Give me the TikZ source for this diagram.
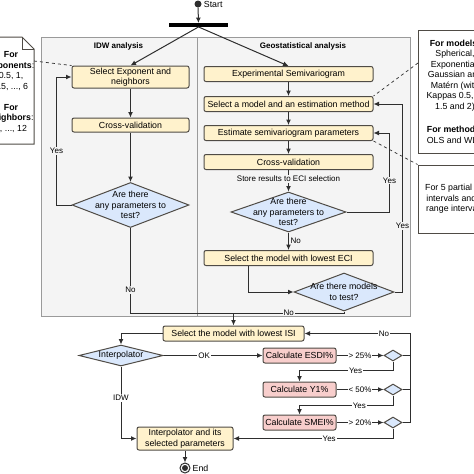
\documentclass[tikz,border=0pt]{standalone}
\usepackage{fontspec}
\setmainfont{Liberation Sans}
\usetikzlibrary{arrows.meta,shapes.geometric}

\definecolor{panelfill}{HTML}{F4F4F4}
\definecolor{panelline}{HTML}{9A9A9A}
\definecolor{linecol}{HTML}{2E2E2E}
\definecolor{boxline}{HTML}{4F4B45}
\definecolor{procfill}{HTML}{FFF2CC}
\definecolor{calcfill}{HTML}{F8CECC}
\definecolor{testfill}{HTML}{DAE8FC}

\tikzset{
  flow/.style={draw=linecol, line width=1pt, -{Latex[length=5.5pt,width=5pt]}},
  link/.style={draw=linecol, line width=1pt},
  proc/.style={rectangle, rounded corners=2pt, draw=boxline, line width=1pt, fill=procfill, inner sep=1pt, align=center},
  calcbox/.style={proc, fill=calcfill},
  test/.style={diamond, aspect=2.9, draw=boxline, line width=1pt, fill=testfill, inner sep=-7pt, align=center},
  lbl/.style={fill=white, inner sep=1pt, font=\fontsize{8}{9.6}\selectfont},
  notebox/.style={draw=boxline, line width=1pt, fill=white, align=center},
  noteline/.style={draw=linecol, dashed, line width=0.7pt},
  paneltitle/.style={font=\fontsize{8}{9.6}\selectfont\bfseries}
}

\begin{document}
\begin{tikzpicture}[x=1pt, y=-1pt, font=\fontsize{8.8}{10.5}\selectfont]
  \useasboundingbox (0,0) rectangle (474,474);

  \draw[draw=panelline, fill=panelfill, line width=1pt] (41,37) rectangle (410,316);
  \draw[draw=panelline, line width=1pt] (197.5,37) -- (197.5,316);
  \node[paneltitle] (idwtitle) at (118.5,46) {IDW analysis};
  \node[paneltitle] (geotitle) at (303,46) {Geostatistical analysis};

  \node[circle, fill=linecol, minimum size=7, inner sep=0, label={[inner sep=2pt]right:Start}] (start) at (198,4) {};
  \node[fill=black, minimum width=59, minimum height=3.5, inner sep=0] (fork) at (198.5,25) {};

  \node[proc, minimum width=117, minimum height=22] (idwsel) at (130.5,77) {Select Exponent and\\neighbors};
  \node[proc, minimum width=117, minimum height=14] (idwcv) at (130.5,125) {Cross-validation};
  \node[test, minimum width=117, minimum height=45] (idwtest) at (130.5,205) {Are there\\any parameters to\\test?};

  \node[proc, minimum width=169, minimum height=15] (expsv) at (288.5,74) {Experimental Semivariogram};
  \node[proc, minimum width=169, minimum height=15] (method) at (288.5,104) {Select a model and an estimation method};
  \node[proc, minimum width=169, minimum height=15] (estim) at (288.5,133) {Estimate semivariogram parameters};
  \node[proc, minimum width=169, minimum height=15] (geocv) at (288.5,162) {Cross-validation};
  \node[test, minimum width=115, minimum height=40] (partest) at (288.5,212) {Are there\\any parameters to\\test?};
  \node[proc, minimum width=169, minimum height=15] (eci) at (288.5,258) {Select the model with lowest ECI};
  \node[test, minimum width=100, minimum height=38] (modeltest) at (344,292) {Are there models\\to test?};

  \node[proc, minimum width=141, minimum height=15] (isi) at (233.5,333.5) {Select the model with lowest ISI};
  \node[test, minimum width=84, minimum height=21] (interp) at (121,355.5) {Interpolator};
  \node[calcbox, minimum width=73, minimum height=15] (esdi) at (299.5,355.5) {Calculate ESDI\%};
  \node[calcbox, minimum width=73, minimum height=15] (y1) at (299.5,389.5) {Calculate Y1\%};
  \node[calcbox, minimum width=73, minimum height=15] (smei) at (299.5,422.5) {Calculate SMEI\%};
  \node[test, minimum width=18, minimum height=11] (c1) at (393,355.5) {};
  \node[test, minimum width=18, minimum height=11] (c2) at (393,389.5) {};
  \node[test, minimum width=18, minimum height=11] (c3) at (393,422.5) {};
  \node[proc, minimum width=96, minimum height=23] (final) at (185,438.5) {Interpolator and its\\selected parameters};
  \node[circle, draw=linecol, line width=1pt, minimum size=10, inner sep=0,
    path picture={\fill[linecol] (path picture bounding box.center) circle (3pt);},
    label={[inner sep=2pt]right:End}] (end) at (185,468) {};

  \draw[notebox] (-20,37) -- (22,37) -- (34,49) -- (34,144) -- (-20,144) -- cycle;
  \draw[notebox, fill=none] (22,37) |- (34,49);
  \node[align=center] (expnote) at (11,92) {\textbf{For}\\\textbf{exponents}:\\0.5, 1,\\1.5, ..., 6\\[10.5pt]\textbf{For}\\\textbf{neighbors}:\\5, ..., 12};
  \node[notebox, minimum width=74, minimum height=123] (modelnote) at (455,91.5) {\textbf{For models:}\\Spherical,\\Exponential,\\Gaussian and\\Matérn (with\\Kappas 0.5, 1,\\1.5 and 2)\\[13pt]\textbf{For methods:}\\OLS and WLS};
  \node[notebox, minimum width=74, minimum height=68] (rangenote) at (455,199) {For 5 partial sill\\intervals and 5\\range intervals};

  \coordinate (exppin) at (34,61);
  \coordinate (modelpin) at (418,63);
  \draw[noteline] (exppin) -- (idwsel.north west);
  \draw[noteline] (modelpin) -- (method.north east);
  \draw[noteline] (estim.south east) -- (rangenote.north west);

  \draw[flow] (start) -- (fork);
  \draw[flow] (fork.south) -- (idwsel.north);
  \draw[flow] (fork.south) -- (expsv.north);

  \draw[flow] (idwsel) -- (idwcv);
  \draw[flow] (idwcv) -- (idwtest);
  \draw[flow] (idwtest.west) -- ++(-15,0) |- node[lbl, fill=panelfill, pos=0.21] {Yes} (idwsel.west);

  \draw[flow] (expsv) -- (method);
  \draw[flow] (method) -- (estim);
  \draw[flow] (estim) -- (geocv);
  \draw[flow] (geocv) -- node[lbl, fill=panelfill, pos=0.4] {Store results to ECI selection} (partest);
  \draw[flow] (partest) -- node[lbl, fill=none, right, pos=0.45, inner sep=1.5pt] {No} (eci);
  \draw[flow] (partest.east) -- ++(43,0) |- node[lbl, fill=panelfill, pos=0.2] {Yes} (estim.east);
  \draw[flow] ([xshift=-40.5pt]eci.south) |- (modeltest.west);
  \draw[flow] (modeltest.east) -- ++(8,0) |- node[lbl, fill=panelfill, pos=0.175] {Yes} (method.east);

  \coordinate (merge) at (233.5,313);
  \draw[link] (idwtest.south) |- node[lbl, fill=panelfill, pos=0.365] {No} (merge);
  \draw[flow] (modeltest.south) |- node[lbl, fill=panelfill, inner ysep=0pt, pos=0.75] {No} (merge) -- (isi.north);

  \draw[flow] (isi.west) -| (interp.north);
  \draw[flow] (interp.east) -- node[lbl, pos=0.41] {OK} (esdi.west);
  \draw[flow] (interp.south) |- node[lbl, pos=0.22] {IDW} (final.west);
  \draw[flow] (final) -- (end);

  \draw[flow] (esdi) -- node[lbl] {> 25\%} (c1);
  \draw[flow] (y1) -- node[lbl] {< 50\%} (c2);
  \draw[flow] (smei) -- node[lbl] {> 20\%} (c3);
  \draw[flow] (c1.south) -- ++(0,9) -| node[lbl, pos=0.2] {Yes} (y1.north);
  \draw[flow] (c2.south) -- ++(0,10) -| node[lbl, pos=0.18] {Yes} (smei.north);
  \draw[flow] (c3.south) |- node[lbl, pos=0.7] {Yes} (final.east);
  \draw[link] (c2.east) -- ++(8,0);
  \draw[link] (c3.east) -- ++(8,0) |- (c1.east);
  \draw[flow] (c1.east) -- ++(8,0) |- node[lbl, pos=0.625] {No} (isi.east);
\end{tikzpicture}
\end{document}
